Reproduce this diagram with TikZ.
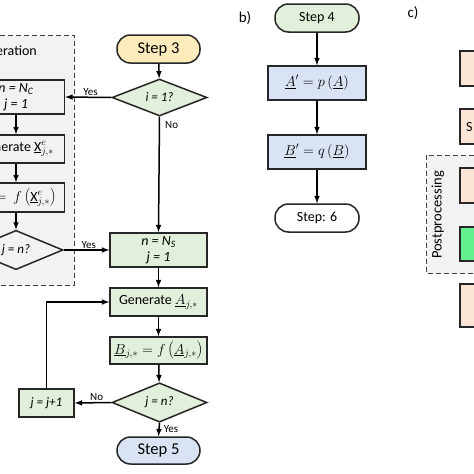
\documentclass[tikz,border=0pt]{standalone}
\usepackage{fontspec}
\setmainfont{Carlito}
\usetikzlibrary{shapes.geometric}
\definecolor{stepyellow}{HTML}{FDEBBB}
\definecolor{flowgreen}{HTML}{E2EFDA}
\definecolor{flowblue}{HTML}{DAE3F3}
\definecolor{flowpeach}{HTML}{FBE5D6}
\definecolor{brightgreen}{HTML}{63F08E}
\definecolor{groupgray}{HTML}{F2F2F2}
\definecolor{dashgray}{HTML}{3F3F3F}
\tikzset{
	box/.style={draw=black!85, line width=1.5pt, minimum width=97pt, minimum height=28pt,
		inner sep=1pt, align=center, font=\fontsize{14}{16}\selectfont},
	term/.style={box, rounded corners=13.5pt, minimum width=83pt},
	test/.style={draw=black!85, diamond, line width=1.5pt, minimum width=95pt, minimum height=33pt,
		inner sep=0pt, font=\fontsize{13}{14}\selectfont\itshape},
	flow/.style={->, >=latex, line width=1.5pt},
	lbl/.style={font=\fontsize{11}{12}\selectfont, inner sep=1pt},
	group/.style={draw=dashgray, fill=groupgray, line width=1pt, dash pattern=on 5pt off 3pt}
}
\begin{document}
\begin{tikzpicture}[x=1pt,y=-1pt]
	\useasboundingbox (0,0) rectangle (474,474);
	\clip (0,0) rectangle (474,474);
	\fill[white] (0,0) rectangle (474,474);
	% a) generation group
	\draw[group] (-45,35) rectangle (74,285);
	\node[font=\fontsize{14}{16}\selectfont, anchor=east, inner sep=0pt] (gentitle) at (37,51) {Generation};
	\node[box, fill=groupgray, minimum height=34pt] (nc) at (16,97) {\textit{n = N\textsubscript{C}}\\ \textit{j = 1}};
	\node[box, fill=groupgray] (genx) at (16,149) {Generate $\underline{\mathrm{X}}^{e}_{j,*}$};
	\node[box, fill=groupgray, minimum height=29pt, text width=80pt, inner xsep=8pt, align=right] (fx) at (16,197.5) {$= f\left(\underline{\mathrm{X}}^{e}_{j,*}\right)$};
	\node[test, fill=groupgray, minimum width=94pt, minimum height=34pt] (dn) at (16,250) {j = n?};
	% a) main column
	\node[term, fill=stepyellow, font=\fontsize{16.5}{18}\selectfont] (step3) at (158.5,49) {Step 3};
	\node[test, fill=flowgreen] (di) at (159.5,97.5) {i = 1?};
	\node[box, fill=flowgreen, minimum height=34pt] (ns) at (158.5,250) {\textit{n = N\textsubscript{S}}\\ \textit{j = 1}};
	\node[box, fill=flowgreen] (gena) at (158.5,302) {Generate $\underline{A}_{j,*}$};
	\node[box, fill=flowgreen, minimum height=27pt] (fb) at (158.5,350.5) {$\underline{B}_{j,*} = f\left(\underline{A}_{j,*}\right)$};
	\node[test, fill=flowgreen] (dj) at (159.5,402.5) {j = n?};
	\node[box, fill=flowgreen, minimum width=55pt, font=\fontsize{13}{14}\selectfont\itshape] (jj) at (46.5,403) {j = j+1};
	\node[term, fill=flowblue, minimum height=27pt, font=\fontsize{16.5}{18}\selectfont] (step5) at (158.5,450.5) {Step 5};
	\draw[flow] (step3) -- (di);
	\draw[flow] (di.west) -- (nc.east) node[lbl, pos=0.45, above] {Yes};
	\draw[flow] (di.south) -- (ns.north) node[lbl, pos=0.07, right=4pt] {No};
	\draw[flow] (nc) -- (genx);
	\draw[flow] (genx) -- (fx);
	\draw[flow] (fx) -- (dn);
	\draw[flow] (dn.east) -- (ns.west) node[lbl, pos=0.55, above] {Yes};
	\draw[flow] (ns) -- (gena);
	\draw[flow] (gena) -- (fb);
	\draw[flow] (fb) -- (dj);
	\draw[flow] (dj.west) -- (jj.east) node[lbl, pos=0.4, above] {No};
	\draw[flow] (jj.north) |- (gena.west);
	\draw[flow] (dj.south) -- (step5.north) node[lbl, pos=0.45, right=3pt] {Yes};
	% b)
	\node[font=\fontsize{15}{16}\selectfont, inner sep=0pt] (blabel) at (245,18) {b)};
	\node[term, fill=flowgreen, minimum width=84pt] (step4) at (317,18) {Step 4};
	\node[box, fill=flowblue, minimum width=98pt, minimum height=34pt] (ap) at (317,83) {$\underline{A}' = p\left(\underline{A}\right)$};
	\node[box, fill=flowblue, minimum width=98pt, minimum height=34pt] (bp) at (317,152) {$\underline{B}' = q\left(\underline{B}\right)$};
	\node[term, fill=white, minimum width=84pt] (step6) at (317,218) {Step: 6};
	\draw[flow] (step4) -- (ap);
	\draw[flow] (ap) -- (bp);
	\draw[flow] (bp) -- (step6);
	% c)
	\node[font=\fontsize{15}{16}\selectfont, inner sep=0pt] (clabel) at (413,13) {c)};
	\draw[group] (426,155) rectangle (520,273);
	\node[font=\fontsize{14.5}{16}\selectfont, rotate=90, inner sep=0pt] (posttitle) at (438,215) {Postprocessing};
	\foreach \top/\bot/\col in {51/86/flowpeach, 109/144/flowpeach, 168/203/flowpeach, 227/261/brightgreen, 284/327/flowpeach}
	\draw[line width=1.5pt, draw=black!85, fill=\col] (460,\top) rectangle (540,\bot);
	\node[font=\fontsize{14}{16}\selectfont, anchor=west, inner sep=0pt] (stext) at (466,127) {S};
\end{tikzpicture}
\end{document}
